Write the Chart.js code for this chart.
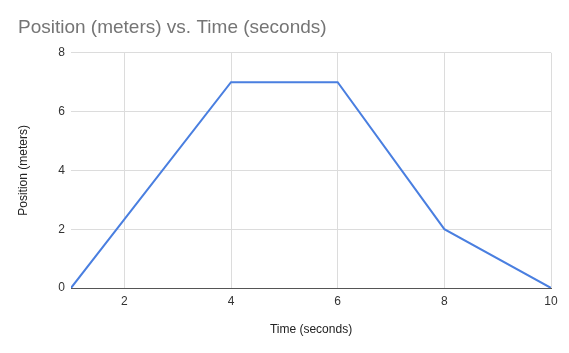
<!DOCTYPE html>
<html>
<head>
<meta charset="utf-8">
<script src="https://cdn.jsdelivr.net/npm/chart.js@4.4.0/dist/chart.umd.min.js"></script>
<style>
  html, body { margin: 0; padding: 0; background: #fff; }
  #wrap { width: 569px; height: 353px; }
</style>
</head>
<body>
<div id="wrap"><canvas id="myChart" width="569" height="353"></canvas></div>
<script>
  // ***** data *****
  const timeSeconds = [1, 4, 6, 8, 10];
  const positionMeters = [0, 7, 7, 2, 0];
  const xTicks = [2, 4, 6, 8, 10];
  const yTicks = [0, 2, 4, 6, 8];

  const data = {
    datasets: [
      {
        label: "Position (meters)",
        data: timeSeconds.map((t, i) => ({ x: t, y: positionMeters[i] })),
        borderColor: "#4a7fe0",
        borderWidth: 2,
        pointRadius: 0,
        tension: 0,
      },
    ],
  };

  const tickFont = { family: "Liberation Sans, Arial", size: 12 };

  const config = {
    type: "line",
    data: data,
    options: {
      responsive: false,
      animation: false,
      layout: { padding: { left: 18, right: 18, bottom: 12, top: 0 } },
      plugins: {
        legend: { display: false },
        tooltip: { enabled: false },
        title: {
          display: true,
          text: "Position (meters) vs. Time (seconds)",
          align: "start",
          color: "#757575",
          font: { family: "Liberation Sans, Arial", size: 19, weight: "normal" },
          padding: { top: 16, bottom: 14 },
        },
      },
      scales: {
        x: {
          type: "linear",
          min: 1,
          max: 10,
          afterBuildTicks: (scale) => {
            scale.ticks = xTicks.map((v) => ({ value: v }));
          },
          afterFit: (scale) => { scale.height = 53; },
          grid: { color: "#dcdcdc", drawTicks: false },
          border: { display: true, color: "#555", width: 1 },
          ticks: { color: "#333", font: tickFont, padding: 6, maxRotation: 0 },
          title: {
            display: true,
            text: "Time (seconds)",
            color: "#222",
            font: tickFont,
            padding: { top: 9 },
          },
        },
        y: {
          min: 0,
          max: 8,
          afterBuildTicks: (scale) => {
            scale.ticks = yTicks.map((v) => ({ value: v }));
          },
          afterFit: (scale) => { scale.width = 53; },
          grid: { color: "#dcdcdc", drawTicks: false },
          border: { display: false },
          ticks: { color: "#333", font: tickFont, padding: 6 },
          title: {
            display: true,
            text: "Position (meters)",
            color: "#222",
            font: tickFont,
            padding: { top: -2, bottom: 4 },
          },
        },
      },
    },
  };

  const myChart = new Chart(document.getElementById("myChart"), config);
</script>
</body>
</html>
